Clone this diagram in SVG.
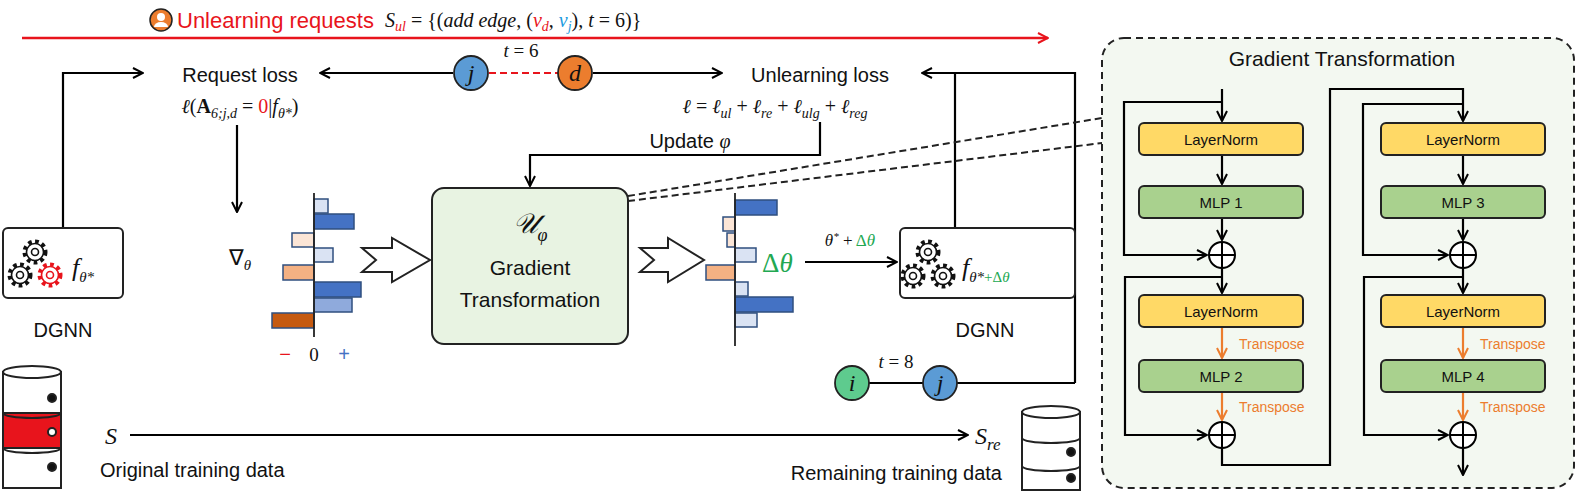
<svg xmlns="http://www.w3.org/2000/svg" width="1579" height="492" viewBox="0 0 1579 492">
<defs>
<marker id="ah" viewBox="0 0 12 12" refX="11" refY="6" markerWidth="12" markerHeight="12" markerUnits="userSpaceOnUse" orient="auto"><path d="M1,1 L11,6 L1,11" fill="none" stroke="#000" stroke-width="2"/></marker>
<marker id="ahr" viewBox="0 0 12 12" refX="11" refY="6" markerWidth="12" markerHeight="12" markerUnits="userSpaceOnUse" orient="auto"><path d="M1,1 L11,6 L1,11" fill="none" stroke="#e8141c" stroke-width="2"/></marker>
<marker id="aho" viewBox="0 0 12 12" refX="11" refY="6" markerWidth="12" markerHeight="12" markerUnits="userSpaceOnUse" orient="auto"><path d="M1,1 L11,6 L1,11" fill="none" stroke="#ec7d2e" stroke-width="2"/></marker>
<g id="gear"><circle r="10" fill="none" stroke="currentColor" stroke-width="5" stroke-dasharray="3.5 3.2"/><circle r="8.5" fill="#fff" stroke="currentColor" stroke-width="1.6"/><circle r="3.5" fill="none" stroke="currentColor" stroke-width="1.6"/></g>
</defs>
<style>
text{font-family:"Liberation Sans",Arial,sans-serif;fill:#111}
.m{font-family:"Liberation Serif","Times New Roman",serif;font-style:italic}
.c{fill:none;stroke:#000;stroke-width:2.2}
.ln{fill:#ffd966;stroke:#222;stroke-width:2}
.mlp{fill:#a9d18e;stroke:#222;stroke-width:2}
.bt{font-size:15px;text-anchor:middle}
.tp{font-size:14px;fill:#ec7d2e}
.lbl{font-size:20px;text-anchor:middle}
</style>
<rect width="1579" height="492" fill="#fff"/>

<g id="request">
<circle cx="161" cy="20" r="11" fill="#ec7d2e" stroke="#222" stroke-width="1.5"/>
<circle cx="161" cy="17" r="4" fill="#fff"/><path d="M154,27 a7,5 0 0 1 14,0" fill="#fff"/>
<text x="177" y="28" font-size="22" style="fill:#e8141c">Unlearning requests</text>
<text x="385" y="27" font-size="20" class="m">S<tspan font-size="14" dy="4" style="fill:#e8141c">ul</tspan><tspan dy="-4" font-style="normal"> = {(</tspan>add edge<tspan font-style="normal">, (</tspan><tspan style="fill:#e8141c">v<tspan font-size="14" dy="4">d</tspan></tspan><tspan dy="-4" font-style="normal">, </tspan><tspan style="fill:#1a9ae0">v<tspan font-size="14" dy="4">j</tspan></tspan><tspan dy="-4" font-style="normal">), </tspan>t<tspan font-style="normal"> = 6)}</tspan></text>
</g>

<g id="connectors">
<line x1="22" y1="38" x2="1048" y2="38" stroke="#e8141c" stroke-width="2.5" marker-end="url(#ahr)"/>
<polyline class="c" points="63,228 63,73 143,73" marker-end="url(#ah)"/>
<line class="c" x1="453" y1="73" x2="320" y2="73" marker-end="url(#ah)"/>
<line x1="489" y1="73" x2="558" y2="73" stroke="#e8141c" stroke-width="2" stroke-dasharray="7 4"/>
<line class="c" x1="593" y1="73" x2="722" y2="73" marker-end="url(#ah)"/>
<polyline class="c" points="1075,383 1075,73 922,73" marker-end="url(#ah)"/>
<line class="c" x1="955" y1="228" x2="955" y2="73"/>
<line class="c" x1="237" y1="125" x2="237" y2="212" stroke-width="1.6" marker-end="url(#ah)"/>
<polyline class="c" points="820,122 820,155 530,155 530,186" marker-end="url(#ah)"/>
<line class="c" x1="805" y1="262" x2="897" y2="262" marker-end="url(#ah)"/>
<line class="c" x1="868" y1="383" x2="923" y2="383"/>
<line class="c" x1="957" y1="383" x2="1075" y2="383"/>
<line class="c" x1="130" y1="435" x2="968" y2="435" marker-end="url(#ah)"/>
<path d="M628,196 L1102,118 M628,201 L1102,143" stroke="#222" stroke-width="2" stroke-dasharray="7 4" fill="none"/>
<path d="M362,248 L392,248 L392,238 L430,260 L392,282 L392,272 L362,272 L376,260 Z" fill="#fff" stroke="#222" stroke-width="2"/>
<path d="M640,248 L668,248 L668,238 L704,260 L668,282 L668,272 L640,272 L654,260 Z" fill="#fff" stroke="#222" stroke-width="2"/>
</g>

<g id="node-j"><circle cx="471" cy="73" r="17" fill="#5b9bd5" stroke="#222" stroke-width="1.8"/><text x="471" y="81" font-size="24" text-anchor="middle" class="m">j</text></g>
<g id="node-d"><circle cx="575" cy="73" r="17" fill="#ec7d2e" stroke="#222" stroke-width="1.8"/><text x="575" y="81" font-size="24" text-anchor="middle" class="m">d</text></g>
<text x="521" y="57" font-size="19" text-anchor="middle" class="m">t<tspan font-style="normal"> = 6</tspan></text>

<g id="request-loss">
<text x="240" y="82" class="lbl">Request loss</text>
<text x="240" y="113" font-size="20" text-anchor="middle" class="m">ℓ<tspan font-style="normal">(</tspan><tspan font-weight="bold" font-style="normal">A</tspan><tspan font-size="14" dy="5">6;j,d</tspan><tspan dy="-5" font-style="normal"> = </tspan><tspan font-style="normal" style="fill:#e8141c">0</tspan><tspan font-style="normal">|</tspan>f<tspan font-size="14" dy="5">θ*</tspan><tspan dy="-5" font-style="normal">)</tspan></text>
</g>
<g id="unlearning-loss">
<text x="820" y="82" class="lbl">Unlearning loss</text>
<text x="775" y="113" font-size="20" text-anchor="middle" class="m">ℓ<tspan font-style="normal"> = </tspan>ℓ<tspan font-size="14" dy="5">ul</tspan><tspan dy="-5" font-style="normal"> + </tspan>ℓ<tspan font-size="14" dy="5">re</tspan><tspan dy="-5" font-style="normal"> + </tspan>ℓ<tspan font-size="14" dy="5">ulg</tspan><tspan dy="-5" font-style="normal"> + </tspan>ℓ<tspan font-size="14" dy="5">reg</tspan></text>
</g>
<text x="690" y="148" class="lbl">Update <tspan class="m">φ</tspan></text>
<text x="240" y="265" font-size="22" class="m" text-anchor="middle"><tspan font-style="normal">∇</tspan><tspan font-size="15" dy="5">θ</tspan></text>

<g id="dgnn1">
<rect x="3" y="228" width="120" height="70" rx="5" fill="#fff" stroke="#222" stroke-width="2"/>
<use href="#gear" x="35" y="252" color="#111"/><use href="#gear" x="20" y="275" color="#111"/><use href="#gear" x="50" y="275" color="#e8141c"/>
<text x="72" y="276" font-size="26" class="m">f<tspan font-size="15" dy="6">θ*</tspan></text>
<text x="63" y="337" class="lbl">DGNN</text>
</g>

<g id="hist-in" stroke="#2f4f7f" stroke-width="1.5">
<rect x="314" y="199" width="14" height="14" fill="#dae3f3"/>
<rect x="314" y="214" width="40" height="15" fill="#4472c4"/>
<rect x="292" y="233" width="22" height="14" fill="#fbe5d6"/>
<rect x="314" y="248" width="19" height="14" fill="#dae3f3"/>
<rect x="283" y="265" width="31" height="15" fill="#f4b183"/>
<rect x="314" y="282" width="47" height="15" fill="#4472c4"/>
<rect x="314" y="298" width="38" height="14" fill="#8faadc"/>
<rect x="272" y="313" width="42" height="15" fill="#c55a11"/>
<line x1="314" y1="193" x2="314" y2="337" stroke="#222" stroke-width="1.8"/>
</g>
<text x="285" y="361" font-size="20" text-anchor="middle" style="fill:#e8141c">−</text>
<text x="314" y="361" font-size="19" text-anchor="middle" class="m" style="font-style:normal">0</text>
<text x="344" y="361" font-size="20" text-anchor="middle" style="fill:#4472c4">+</text>

<g id="gt-box">
<rect x="432" y="188" width="196" height="156" rx="12" fill="#e8f3e2" stroke="#222" stroke-width="2"/>
<text x="530" y="233" font-size="28" text-anchor="middle" class="m">𝒰<tspan font-size="18" dy="8">φ</tspan></text>
<text x="530" y="275" font-size="21" text-anchor="middle">Gradient</text>
<text x="530" y="307" font-size="21" text-anchor="middle">Transformation</text>
</g>

<g id="hist-out" stroke="#2f4f7f" stroke-width="1.5">
<rect x="735" y="200" width="42" height="15" fill="#4472c4"/>
<rect x="723" y="217" width="12" height="14" fill="#fbe5d6"/>
<rect x="727" y="233" width="8" height="14" fill="#fbe5d6"/>
<rect x="735" y="248" width="21" height="14" fill="#dae3f3"/>
<rect x="706" y="265" width="29" height="15" fill="#f4b183"/>
<rect x="735" y="282" width="13" height="14" fill="#dae3f3"/>
<rect x="735" y="297" width="58" height="15" fill="#4472c4"/>
<rect x="735" y="313" width="22" height="14" fill="#dae3f3"/>
<line x1="735" y1="193" x2="735" y2="346" stroke="#222" stroke-width="1.8"/>
</g>
<text x="762" y="272" font-size="27" class="m" style="fill:#22a852;font-style:normal">Δ<tspan style="font-style:italic">θ</tspan></text>
<text x="850" y="246" font-size="17" text-anchor="middle" class="m">θ<tspan font-size="11" dy="-6">*</tspan><tspan dy="6" font-style="normal"> + </tspan><tspan style="fill:#22a852;font-style:normal">Δ</tspan><tspan style="fill:#22a852">θ</tspan></text>

<g id="dgnn2">
<rect x="900" y="228" width="175" height="70" rx="5" fill="#fff" stroke="#222" stroke-width="2"/>
<use href="#gear" x="928" y="252" color="#111"/><use href="#gear" x="913" y="276" color="#111"/><use href="#gear" x="943" y="276" color="#111"/>
<text x="962" y="276" font-size="26" class="m">f<tspan font-size="15" dy="6">θ*</tspan><tspan font-size="15" style="fill:#22a852;font-style:normal">+Δ</tspan><tspan font-size="15" style="fill:#22a852">θ</tspan></text>
<text x="985" y="337" class="lbl">DGNN</text>
</g>

<g id="node-i"><circle cx="852" cy="383" r="17" fill="#5ecb8e" stroke="#222" stroke-width="1.8"/><text x="852" y="391" font-size="24" text-anchor="middle" class="m">i</text></g>
<g id="node-j2"><circle cx="940" cy="383" r="17" fill="#5b9bd5" stroke="#222" stroke-width="1.8"/><text x="940" y="391" font-size="24" text-anchor="middle" class="m">j</text></g>
<text x="896" y="368" font-size="19" text-anchor="middle" class="m">t<tspan font-style="normal"> = 8</tspan></text>

<g id="db-original" stroke="#222" stroke-width="2">
<rect x="3" y="372" width="58" height="116" fill="#fff"/>
<rect x="3" y="413" width="58" height="35" fill="#e8141c"/>
<ellipse cx="32" cy="372" rx="29" ry="6" fill="#fff"/>
<path d="M3,413 a29,5 0 0 0 58,0 M3,448 a29,5 0 0 0 58,0" fill="none"/>
<circle cx="52" cy="398" r="4" fill="#111"/><circle cx="52" cy="432" r="4" fill="#fff"/><circle cx="52" cy="467" r="4" fill="#111"/>
</g>
<text x="105" y="444" font-size="24" class="m">S</text>
<text x="100" y="477" font-size="20">Original training data</text>
<g id="db-remaining" stroke="#222" stroke-width="2">
<rect x="1022" y="412" width="58" height="78" fill="#fff"/>
<ellipse cx="1051" cy="412" rx="29" ry="6" fill="#fff"/>
<path d="M1022,438 a29,5 0 0 0 58,0 M1022,466 a29,5 0 0 0 58,0" fill="none"/>
<circle cx="1071" cy="452" r="4" fill="#111"/><circle cx="1071" cy="478" r="4" fill="#111"/>
</g>
<text x="975" y="444" font-size="24" class="m">S<tspan font-size="17" dy="6">re</tspan></text>
<text x="1002" y="480" font-size="20" text-anchor="end">Remaining training data</text>

<g id="gt-panel">
<rect x="1102" y="38" width="472" height="450" rx="22" fill="#f3f8f1" stroke="#222" stroke-width="2" stroke-dasharray="7 5"/>
<text x="1342" y="66" font-size="21" text-anchor="middle">Gradient Transformation</text>
</g>
<g id="panel-connectors" fill="none" stroke="#000" stroke-width="2.2">
<line x1="1222" y1="89" x2="1222" y2="121" marker-end="url(#ah)"/>
<polyline points="1222,102 1124,102 1124,255 1207,255" marker-end="url(#ah)"/>
<line x1="1222" y1="155" x2="1222" y2="184" marker-end="url(#ah)"/>
<line x1="1222" y1="218" x2="1222" y2="240" marker-end="url(#ah)"/>
<line x1="1222" y1="268" x2="1222" y2="293" marker-end="url(#ah)"/>
<polyline points="1222,277 1125,277 1125,435 1207,435" marker-end="url(#ah)"/>
<line x1="1222" y1="327" x2="1222" y2="358" stroke="#ec7d2e" marker-end="url(#aho)"/>
<line x1="1222" y1="392" x2="1222" y2="420" stroke="#ec7d2e" marker-end="url(#aho)"/>
<polyline points="1222,448 1222,465 1330,465 1330,89 1463,89 1463,121" marker-end="url(#ah)"/>
<polyline points="1463,104 1363,104 1363,255 1448,255" marker-end="url(#ah)"/>
<line x1="1463" y1="155" x2="1463" y2="184" marker-end="url(#ah)"/>
<line x1="1463" y1="218" x2="1463" y2="240" marker-end="url(#ah)"/>
<line x1="1463" y1="268" x2="1463" y2="293" marker-end="url(#ah)"/>
<polyline points="1463,277 1364,277 1364,435 1448,435" marker-end="url(#ah)"/>
<line x1="1463" y1="327" x2="1463" y2="358" stroke="#ec7d2e" marker-end="url(#aho)"/>
<line x1="1463" y1="392" x2="1463" y2="420" stroke="#ec7d2e" marker-end="url(#aho)"/>
<line x1="1463" y1="448" x2="1463" y2="475" marker-end="url(#ah)"/>
</g>
<g id="ln1"><rect class="ln" x="1139" y="123" width="164" height="32" rx="5"/><text class="bt" x="1221" y="145">LayerNorm</text></g>
<g id="mlp1"><rect class="mlp" x="1139" y="186" width="164" height="32" rx="5"/><text class="bt" x="1221" y="208">MLP 1</text></g>
<g id="plus1"><circle cx="1222" cy="255" r="13" fill="#fff" stroke="#000" stroke-width="2"/><path d="M1209,255 H1235 M1222,242 V268" stroke="#000" stroke-width="2"/></g>
<g id="ln2"><rect class="ln" x="1139" y="295" width="164" height="32" rx="5"/><text class="bt" x="1221" y="317">LayerNorm</text></g>
<text class="tp" x="1239" y="349">Transpose</text>
<g id="mlp2"><rect class="mlp" x="1139" y="360" width="164" height="32" rx="5"/><text class="bt" x="1221" y="382">MLP 2</text></g>
<text class="tp" x="1239" y="412">Transpose</text>
<g id="plus2"><circle cx="1222" cy="435" r="13" fill="#fff" stroke="#000" stroke-width="2"/><path d="M1209,435 H1235 M1222,422 V448" stroke="#000" stroke-width="2"/></g>
<g id="ln3"><rect class="ln" x="1381" y="123" width="164" height="32" rx="5"/><text class="bt" x="1463" y="145">LayerNorm</text></g>
<g id="mlp3"><rect class="mlp" x="1381" y="186" width="164" height="32" rx="5"/><text class="bt" x="1463" y="208">MLP 3</text></g>
<g id="plus3"><circle cx="1463" cy="255" r="13" fill="#fff" stroke="#000" stroke-width="2"/><path d="M1450,255 H1476 M1463,242 V268" stroke="#000" stroke-width="2"/></g>
<g id="ln4"><rect class="ln" x="1381" y="295" width="164" height="32" rx="5"/><text class="bt" x="1463" y="317">LayerNorm</text></g>
<text class="tp" x="1480" y="349">Transpose</text>
<g id="mlp4"><rect class="mlp" x="1381" y="360" width="164" height="32" rx="5"/><text class="bt" x="1463" y="382">MLP 4</text></g>
<text class="tp" x="1480" y="412">Transpose</text>
<g id="plus4"><circle cx="1463" cy="435" r="13" fill="#fff" stroke="#000" stroke-width="2"/><path d="M1450,435 H1476 M1463,422 V448" stroke="#000" stroke-width="2"/></g>
</svg>
